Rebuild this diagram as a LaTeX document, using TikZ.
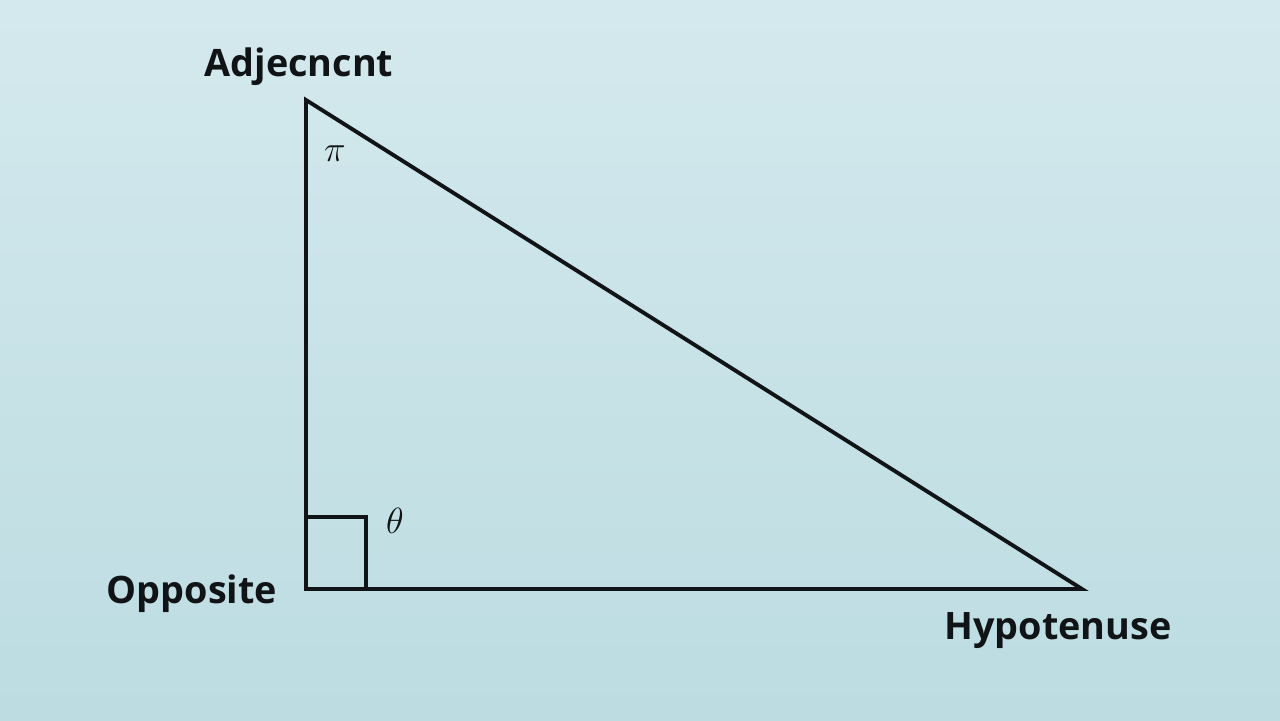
\documentclass[tikz,border=0pt]{standalone}
\usepackage{fontspec}
\setmainfont{Open Sans}
\usetikzlibrary{calc}
\definecolor{bgtop}{RGB}{212,233,238}
\definecolor{bgbot}{RGB}{188,220,225}
\definecolor{ink}{RGB}{17,20,22}
\tikzset{
	side/.style={line width=2.2pt, ink, line join=miter},
	lbl/.style={font=\fontsize{21.5}{26}\selectfont\bfseries, text=ink, inner sep=0pt},
	sym/.style={font=\fontsize{22}{26}\selectfont, text=ink, inner sep=0pt}
}

\begin{document}
\begin{tikzpicture}[x=0.02cm, y=-0.02cm]
			%%%%% START %%%%%
			\shade[top color=bgtop, bottom color=bgbot] (0, 0) rectangle (1280, 720);
			\useasboundingbox (0, 0) rectangle (1280, 720);
			
			\coordinate (top) at (306, 100);
			\coordinate (corner) at (306, 589);
			\coordinate (tip) at (1082, 589);
			
			\draw[side] (top) -- (corner) -- (tip) -- cycle;
			\draw[line width=1.8pt, ink] (306, 517) rectangle (366, 589);
			
			\node[lbl] (adj) at (299, 67) {Adjecncnt};
			\node[sym] (pi) at (335, 154) {$\pi$};
			\node[sym] (theta) at (395, 521) {$\theta$};
			\node[lbl] (opp) at (192, 594) {Opposite};
			\node[lbl] (hyp) at (1058, 631) {Hypotenuse};
			%%%%% END %%%%%
\end{tikzpicture}
\end{document}
